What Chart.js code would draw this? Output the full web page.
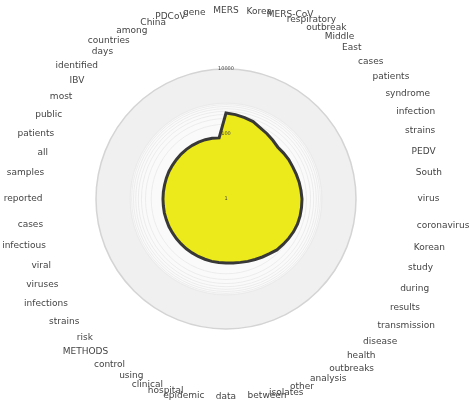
<!DOCTYPE html>
<html>
<head>
<meta charset="utf-8">
<script src="https://cdn.jsdelivr.net/npm/chart.js@4.4.0/dist/chart.umd.min.js"></script>
<style>
  html, body { margin: 0; padding: 0; background: #ffffff; }
  #wrap { width: 474px; height: 403px; }
</style>
</head>
<body>
<div id="wrap"><canvas id="mainChart"></canvas></div>
<script>
// words, clockwise from the top
const words = [
  "MERS", "Korea", "MERS-CoV", "respiratory", "outbreak", "Middle", "East",
  "cases", "patients", "syndrome", "infection", "strains", "PEDV", "South",
  "virus", "coronavirus", "Korean", "study", "during", "results", "transmission",
  "disease", "health", "outbreaks", "analysis", "other", "isolates", "between",
  "data", "epidemic", "hospital", "clinical", "using", "control", "METHODS",
  "risk", "strains", "infections", "viruses", "viral", "infectious", "cases",
  "reported", "samples", "all", "patients", "public", "most", "IBV",
  "identified", "days", "countries", "among", "China", "PDCoV", "gene"
]
// counts
const counts = [
  443, 410, 370, 335, 270, 235, 204,
  180, 184, 190, 190, 196, 204, 210,
  218, 218, 218, 215, 204, 190, 176,
  164, 142, 128, 116, 108, 100, 96,
  93, 93, 93, 92, 92, 91, 91,
  90, 90, 89, 89, 88, 88, 87,
  87, 87, 87, 88, 89, 89, 89,
  90, 90, 89, 88, 86, 82, 78
]
const tickLabels = [1, 100, 10000]   // labelled rings
const decadeSteps = [1, 2, 3, 4, 5, 6, 7, 8, 9]  // minor log rings per decade

const labelFont = "'DejaVu Sans', Verdana, sans-serif"

// ring positions in log10 units
let gridValues = []
for (let d = 0; d < 4; d++) {
    decadeSteps.forEach(s => gridValues.push(Math.log10(s * Math.pow(10, d))))
}
gridValues.push(4)

function ringDistance(scale, value) {
    return scale.getDistanceFromCenterForValue(Math.log10(value))
}

function gridColor(ctx) {
    const v = ctx.tick.value
    if (v > 3.999) return "#d4d4d4"
    if (Math.abs(v - 2) < 1e-6) return "#fafafa"
    if (v > 2 && v < 3) return "#e9e9e9"
    return "rgba(0,0,0,0)"
}

function gridWidth(ctx) {
    const v = ctx.tick.value
    if (v > 3.999) return 1.5
    if (Math.abs(v - 2) < 1e-6) {
        // whitish inner area, up to where the grey band starts
        return 2 * (ringDistance(ctx.scale, 850) - ringDistance(ctx.scale, 100))
    }
    return 0.8
}

function tickText(value) {
    const hit = tickLabels.find(t => Math.abs(Math.log10(t) - value) < 1e-4)
    return hit ? String(hit) : ""
}

// labels sit further out on the right and at the bottom
function labelPadding(ctx) {
    const a = ctx.index / words.length * 2 * Math.PI
    return 53 - 5 * Math.cos(a) + 4 * Math.sin(a)
}

// make the disc larger than the default fit, then lay the labels out again
function resizeDisc(scale) {
    scale.drawingArea = Math.round(scale.height * 0.33)
    scale.xCenter = Math.round(scale.width * 0.486)
    scale.yCenter = Math.round(scale.height * 0.504)
    scale.fit()
}

const ctx = document.getElementById("mainChart").getContext("2d")
window.myChart = new Chart(ctx, {
    type: "radar",
    data: {
        labels: words,
        datasets: [{
            label: "count",
            data: counts.map(c => Math.log10(c)),
            backgroundColor: "#ecea1a",
            borderColor: "#383838",
            borderWidth: 3,
            pointRadius: 0,
            pointHoverRadius: 0,
            fill: true
        }]
    },
    options: {
        responsive: true,
        maintainAspectRatio: false,
        animation: false,
        plugins: {
            legend: { display: false },
            tooltip: { enabled: false }
        },
        scales: {
            r: {
                min: -0.000001,
                max: 4,
                backgroundColor: "#f0f0f0",
                angleLines: { display: false },
                grid: {
                    circular: true,
                    color: gridColor,
                    lineWidth: gridWidth
                },
                afterBuildTicks: scale => {
                    scale.ticks = gridValues.map(v => ({ value: v }))
                },
                afterFit: resizeDisc,
                ticks: {
                    z: 1,
                    showLabelBackdrop: false,
                    color: "#444",
                    font: { family: labelFont, size: 5 },
                    callback: value => tickText(value)
                },
                pointLabels: {
                    padding: labelPadding,
                    color: "#444444",
                    font: { family: labelFont, size: 9 }
                }
            }
        }
    }
})
</script>
</body>
</html>
